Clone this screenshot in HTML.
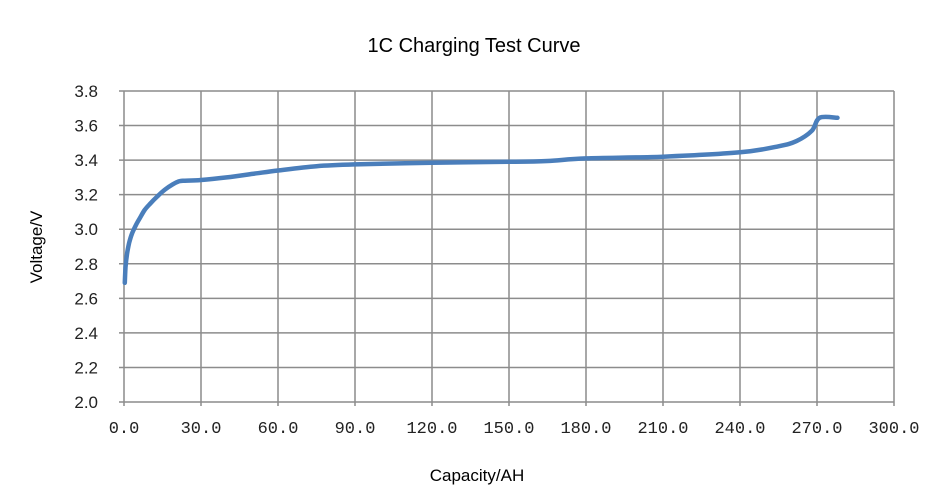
<!DOCTYPE html>
<html><head><meta charset="utf-8"><style>
html,body{margin:0;padding:0;background:#fff;}
svg{display:block;}
</style></head><body>
<svg id="chart" width="949" height="504" xmlns="http://www.w3.org/2000/svg">
<text x="474" y="52" text-anchor="middle" font-family="Liberation Sans, sans-serif" font-size="20" fill="#000">1C Charging Test Curve</text>
<text x="477" y="481" text-anchor="middle" font-family="Liberation Sans, sans-serif" font-size="17" fill="#000">Capacity/AH</text>
<text transform="translate(42,247) rotate(-90)" text-anchor="middle" font-family="Liberation Sans, sans-serif" font-size="17" fill="#000">Voltage/V</text>
<g id="grid"></g><g id="ticks"></g><g id="series"></g>
</svg>
<script>
const xTicks=[0,30,60,90,120,150,180,210,240,270,300];
const yTicks=[2.0,2.2,2.4,2.6,2.8,3.0,3.2,3.4,3.6,3.8];
const capacity=[0.3,0.6,1.2,2,3,4.5,6,8,10,13,16,19,21,23,30,40,50,60,75,90,120,150,165,180,210,240,255,262,268,271,278];
const voltage=[2.69,2.78,2.86,2.92,2.97,3.02,3.06,3.11,3.145,3.19,3.23,3.26,3.275,3.28,3.285,3.30,3.32,3.34,3.365,3.375,3.385,3.39,3.395,3.41,3.42,3.445,3.48,3.51,3.57,3.645,3.645];
const X0=124,X1=894,Y0=402,Y1=91;
const xs=v=>X0+(v-0)/(300-0)*(X1-X0);
const ys=v=>Y0-(v-2.0)/(3.8-2.0)*(Y0-Y1);
const NS="http://www.w3.org/2000/svg";
const grid=document.getElementById('grid'),ticks=document.getElementById('ticks'),series=document.getElementById('series');
function mk(tag,attrs,parent){const e=document.createElementNS(NS,tag);for(const k in attrs)e.setAttribute(k,attrs[k]);parent.appendChild(e);return e;}
xTicks.forEach(t=>{
 const l=mk('line',{x1:xs(t),x2:xs(t),y1:Y1,y2:Y0+4,stroke:'#8c8c8c','stroke-width':1.5},grid);
 
 
 const tx=mk('text',{x:xs(t),y:Y0+31,'text-anchor':'middle','font-family':'Liberation Mono, monospace','font-size':17,fill:'#222'},ticks);
 tx.textContent=t.toFixed(1);
 
 
});
yTicks.forEach(t=>{
 const l=mk('line',{x1:X0-5,x2:X1,y1:ys(t),y2:ys(t),stroke:'#8c8c8c','stroke-width':1.5},grid);
 
 
 const tx=mk('text',{x:X0-26,y:ys(t)+6,'text-anchor':'end','font-family':'Liberation Sans, sans-serif','font-size':17,fill:'#222'},ticks);
 tx.textContent=t.toFixed(1);
 
 
});
const P=capacity.map((c,i)=>[xs(c),ys(voltage[i])]);
let d='M'+P[0][0].toFixed(1)+','+P[0][1].toFixed(1);
for(let i=0;i<P.length-1;i++){
 const p0=P[Math.max(0,i-1)],p1=P[i],p2=P[i+1],p3=P[Math.min(P.length-1,i+2)];
 const c1=[p1[0]+(p2[0]-p0[0])/6,p1[1]+(p2[1]-p0[1])/6];
 const c2=[p2[0]-(p3[0]-p1[0])/6,p2[1]-(p3[1]-p1[1])/6];
 d+=' C'+c1[0].toFixed(1)+','+c1[1].toFixed(1)+' '+c2[0].toFixed(1)+','+c2[1].toFixed(1)+' '+p2[0].toFixed(1)+','+p2[1].toFixed(1);
}
const pl=mk('path',{d:d,fill:'none',stroke:'#4a7ebb','stroke-width':4.5,'stroke-linejoin':'round','stroke-linecap':'round'},series);


</script>
</body></html>
